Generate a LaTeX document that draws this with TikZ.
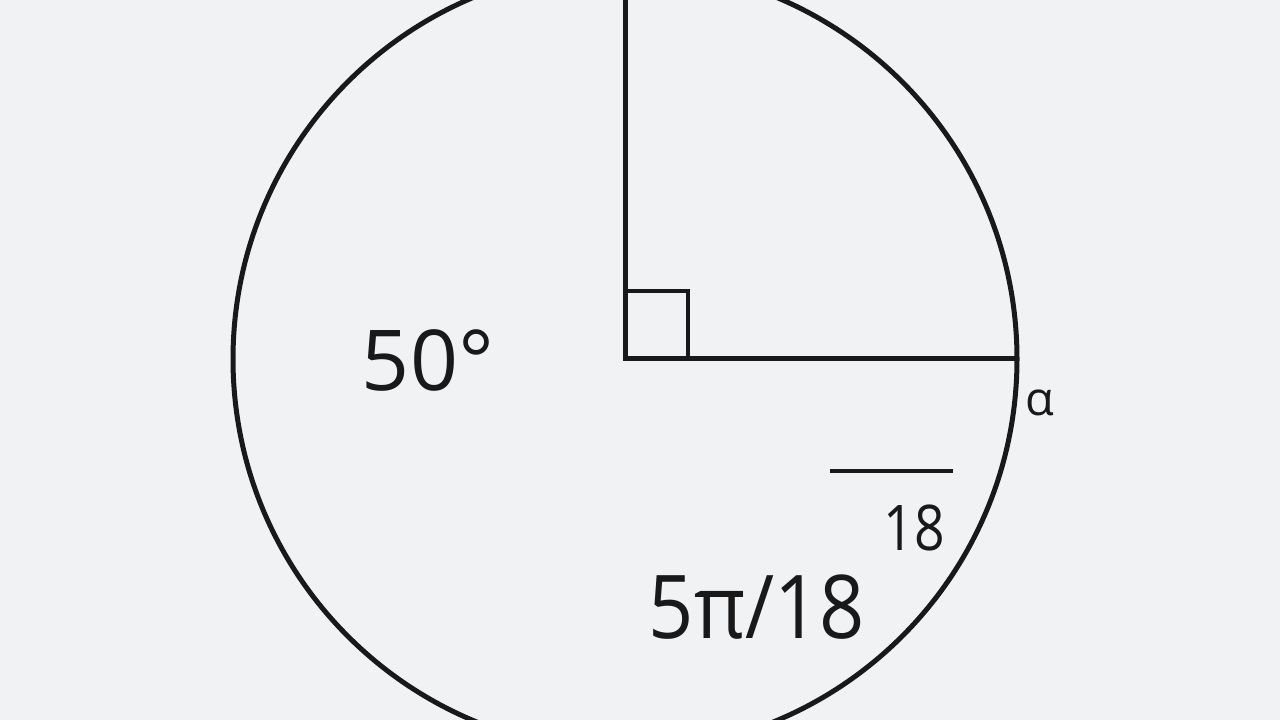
\documentclass[tikz,border=0pt]{standalone}
\usepackage{fontspec}
\setmainfont{Open Sans}
\definecolor{bg}{HTML}{F1F2F3}
\begin{document}
\begin{tikzpicture}[x=1pt,y=-1pt,
  geo/.style={line width=5pt,black!90},
  lbl/.style={inner sep=0pt,text=black!90}]
\fill[bg] (0,0) rectangle (1280,720);
\useasboundingbox (0,0) rectangle (1280,720);
\begin{scope}
\clip (0,0) rectangle (1280,720);
\coordinate (O) at (625,358);
\coordinate (T) at (625,-10);
\coordinate (R) at (1017,358);
\draw[geo] (625,359) circle[radius=392];
\draw[geo] (T) -- (O) -- (R);
\draw[geo,line width=4.5pt] (625,291) -- (688,291) -- (688,358);
\end{scope}
\node[lbl,font=\fontsize{84}{84}\selectfont,anchor=base] (deg) at (428,390) {50°};
\node[lbl,font=\fontsize{47}{47}\selectfont,anchor=base] (alpha) at (1040,415) {α};
\coordinate (b1) at (830,471);
\coordinate (b2) at (953,471);
\draw[line width=3.5pt,black!90] (b1) -- (b2);
\node[lbl,font=\fontsize{63}{63}\selectfont,anchor=base] (e) at (914,550) {\scalebox{0.85}[1]{18}};
\node[lbl,font=\fontsize{88}{88}\selectfont,anchor=base] (frac) at (757,638) {\scalebox{0.9}[1]{5π/18}};
\end{tikzpicture}
\end{document}
